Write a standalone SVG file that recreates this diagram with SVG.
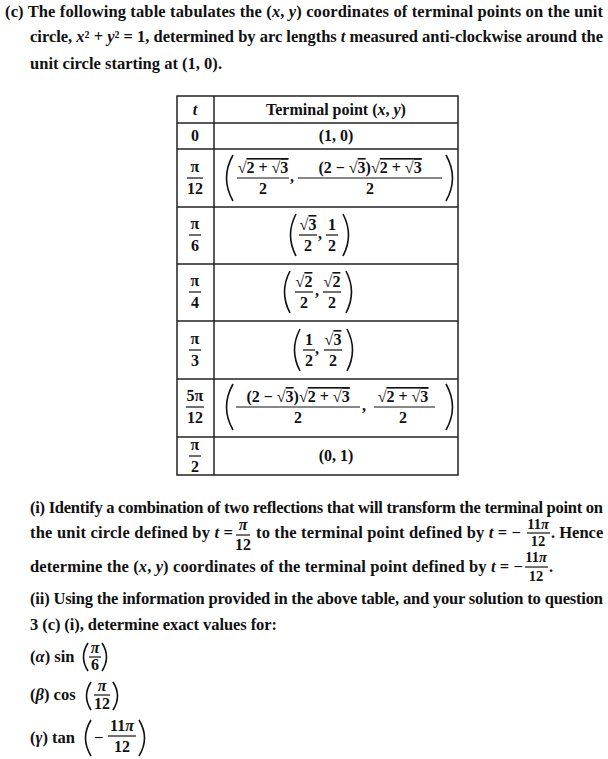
<svg xmlns="http://www.w3.org/2000/svg" width="608" height="759" viewBox="0 0 608 759">
<style>
text{font-family:"Liberation Serif",serif;font-weight:bold;font-size:16.5px;fill:#111}
.m{font-size:16px}
.s{font-size:16px}
.t{font-size:14.5px}
.c{text-anchor:middle}
.i{font-style:italic}
.o{text-decoration:overline}
.b{stroke:#111;stroke-width:1.2}
.p{fill:none;stroke:#111;stroke-width:1.6}
.g{stroke:#222;stroke-width:1.5;fill:none}
</style>
<rect width="608" height="759" fill="#fff"/>
<g id="intro">
<text x="5" y="17" textLength="598" lengthAdjust="spacing">(c) The following table tabulates the (<tspan class="i">x</tspan>, <tspan class="i">y</tspan>) coordinates of terminal points on the unit</text>
<text x="30" y="42" textLength="573" lengthAdjust="spacing">circle, <tspan class="i">x</tspan>² + <tspan class="i">y</tspan>² = 1, determined by arc lengths <tspan class="i">t</tspan> measured anti-clockwise around the</text>
<text x="30" y="69" textLength="192" lengthAdjust="spacing">unit circle starting at (1, 0).</text>
</g>
<g id="table">
<rect x="177" y="96" width="281" height="379" class="g"/>
<line x1="214" y1="96" x2="214" y2="475" class="g"/>
<g class="g"><line x1="177" y1="123" x2="458" y2="123"/><line x1="177" y1="149" x2="458" y2="149"/><line x1="177" y1="207" x2="458" y2="207"/><line x1="177" y1="264" x2="458" y2="264"/><line x1="177" y1="321" x2="458" y2="321"/><line x1="177" y1="379" x2="458" y2="379"/><line x1="177" y1="437" x2="458" y2="437"/></g>
<text class="m c i" x="195" y="115">t</text>
<text class="m c" x="336" y="115">Terminal point (<tspan class="i">x</tspan>, <tspan class="i">y</tspan>)</text>
<text class="m c" x="195" y="141">0</text>
<text class="m c" x="336" y="141">(1, 0)</text>
<g id="tcol">
<text class="s c" x="195" y="172">π</text><line class="b" x1="187" y1="178" x2="203" y2="178"/><text class="s c" x="195" y="194">12</text>
<text class="s c" x="195" y="229">π</text><line class="b" x1="189" y1="235" x2="201" y2="235"/><text class="s c" x="195" y="251">6</text>
<text class="s c" x="195" y="286">π</text><line class="b" x1="189" y1="292" x2="201" y2="292"/><text class="s c" x="195" y="308">4</text>
<text class="s c" x="195" y="344">π</text><line class="b" x1="189" y1="350" x2="201" y2="350"/><text class="s c" x="195" y="366">3</text>
<text class="s c" x="195" y="401">5π</text><line class="b" x1="186" y1="407" x2="204" y2="407"/><text class="s c" x="195" y="423">12</text>
<text class="s c" x="195" y="450">π</text><line class="b" x1="189" y1="456" x2="201" y2="456"/><text class="s c" x="195" y="472">2</text>
</g>
<g id="r12">
<path class="p" d="M233,155 Q220,178 233,201"/>
<text class="s c" x="263" y="173">√<tspan class="o">2 + √<tspan class="o">3</tspan></tspan></text>
<line class="b" x1="237" y1="178" x2="289" y2="178"/><text class="s c" x="263" y="194">2</text>
<text class="s" x="290" y="182">,</text>
<text class="s c" x="370" y="173">(2 − √<tspan class="o">3</tspan>)√<tspan class="o">2 + √<tspan class="o">3</tspan></tspan></text>
<line class="b" x1="298" y1="178" x2="442" y2="178"/><text class="s c" x="370" y="194">2</text>
<path class="p" d="M446,155 Q459,178 446,201"/>
</g>
<g id="r6">
<path class="p" d="M296,214 Q285,235 296,256"/>
<text class="s c" x="308" y="230">√<tspan class="o">3</tspan></text><line class="b" x1="299" y1="235" x2="317" y2="235"/><text class="s c" x="308" y="251">2</text>
<text class="s" x="318" y="239">,</text>
<text class="s c" x="332" y="230">1</text><line class="b" x1="326" y1="235" x2="338" y2="235"/><text class="s c" x="332" y="251">2</text>
<path class="p" d="M343,214 Q354,235 343,256"/>
</g>
<g id="r4">
<path class="p" d="M290,271 Q279,292 290,313"/>
<text class="s c" x="304" y="287">√<tspan class="o">2</tspan></text><line class="b" x1="295" y1="292" x2="313" y2="292"/><text class="s c" x="304" y="308">2</text>
<text class="s" x="315" y="296">,</text>
<text class="s c" x="332" y="287">√<tspan class="o">2</tspan></text><line class="b" x1="323" y1="292" x2="341" y2="292"/><text class="s c" x="332" y="308">2</text>
<path class="p" d="M346,271 Q357,292 346,313"/>
</g>
<g id="r3">
<path class="p" d="M300,329 Q289,350 300,371"/>
<text class="s c" x="309" y="345">1</text><line class="b" x1="303" y1="350" x2="315" y2="350"/><text class="s c" x="309" y="366">2</text>
<text class="s" x="315" y="354">,</text>
<text class="s c" x="333" y="345">√<tspan class="o">3</tspan></text><line class="b" x1="324" y1="350" x2="342" y2="350"/><text class="s c" x="333" y="366">2</text>
<path class="p" d="M347,329 Q358,350 347,371"/>
</g>
<g id="r512">
<path class="p" d="M233,384 Q220,407 233,430"/>
<text class="s c" x="298" y="402">(2 − √<tspan class="o">3</tspan>)√<tspan class="o">2 + √<tspan class="o">3</tspan></tspan></text>
<line class="b" x1="236" y1="407" x2="360" y2="407"/><text class="s c" x="298" y="423">2</text>
<text class="s" x="362" y="411">,</text>
<text class="s c" x="403" y="402">√<tspan class="o">2 + √<tspan class="o">3</tspan></tspan></text>
<line class="b" x1="374" y1="407" x2="435" y2="407"/><text class="s c" x="403" y="423">2</text>
<path class="p" d="M446,384 Q459,407 446,430"/>
</g>
<text class="m c" x="336" y="461">(0, 1)</text>
</g>
<g id="part-i">
<text x="30" y="513" textLength="573" lengthAdjust="spacing">(i) Identify a combination of two reflections that will transform the terminal point on</text>
<text x="30" y="538" textLength="203" lengthAdjust="spacing">the unit circle defined by <tspan class="i">t</tspan> =</text>
<text class="s c i" x="243" y="530">π</text><line class="b" x1="236" y1="535" x2="250" y2="535"/><text class="s c" x="243" y="550">12</text>
<text x="256" y="538" textLength="265" lengthAdjust="spacing">to the terminal point defined by <tspan class="i">t</tspan> = −</text>
<text class="t c" x="538" y="529">11<tspan class="i">π</tspan></text><line class="b" x1="527" y1="533" x2="550" y2="533"/><text class="t c" x="538" y="546">12</text>
<text x="551" y="538">. Hence</text>
<text x="30" y="572" textLength="493" lengthAdjust="spacing">determine the (<tspan class="i">x</tspan>, <tspan class="i">y</tspan>) coordinates of the terminal point defined by <tspan class="i">t</tspan> = −</text>
<text class="t c" x="536" y="562">11<tspan class="i">π</tspan></text><line class="b" x1="525" y1="567" x2="548" y2="567"/><text class="t c" x="536" y="581">12</text>
<text x="549" y="572">.</text>
</g>
<g id="part-ii">
<text x="30" y="604" textLength="573" lengthAdjust="spacing">(ii) Using the information provided in the above table, and your solution to question</text>
<text x="30" y="630" textLength="247" lengthAdjust="spacing">3 (c) (i), determine exact values for:</text>
<text x="30" y="662">(<tspan class="i">α</tspan>) sin</text>
<path class="p" d="M88,643 Q79,657 88,671"/><text class="s c i" x="95" y="653">π</text><line class="b" x1="89" y1="657" x2="101" y2="657"/><text class="s c" x="95" y="670">6</text><path class="p" d="M102,643 Q111,657 102,671"/>
<text x="30" y="700">(<tspan class="i">β</tspan>) cos</text>
<path class="p" d="M91,682 Q82,696 91,710"/><text class="s c i" x="102" y="691">π</text><line class="b" x1="94" y1="695" x2="110" y2="695"/><text class="s c" x="102" y="709">12</text><path class="p" d="M113,682 Q122,696 113,710"/>
<text x="30" y="743">(<tspan class="i">γ</tspan>) tan</text>
<path class="p" d="M91,720 Q80,738 91,756"/><text x="94" y="743">−</text><text class="s c" x="122" y="731">11<tspan class="i">π</tspan></text><line class="b" x1="108" y1="736" x2="136" y2="736"/><text class="s c" x="122" y="752">12</text><path class="p" d="M139,720 Q150,738 139,756"/>
</g>
</svg>
